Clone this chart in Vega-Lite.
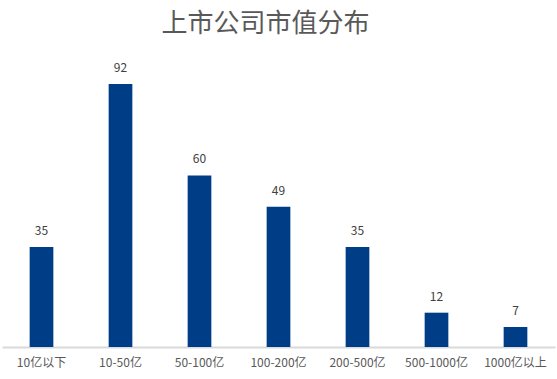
{
  "$schema": "https://vega.github.io/schema/vega-lite/v6.json",
  "width": 553,
  "height": 286,
  "autosize": {"type": "none"},
  "padding": {"left": 2, "top": 61, "right": 2, "bottom": 32},
  "background": "white",
  "title": {
    "text": "上市公司市值分布",
    "font": "Noto Sans CJK SC",
    "fontSize": 26,
    "fontWeight": "normal",
    "color": "#595959",
    "anchor": "middle",
    "dx": -13,
    "offset": 24
  },
  "data": {
    "values": [
      {"range": "10亿以下", "count": 35},
      {"range": "10-50亿", "count": 92},
      {"range": "50-100亿", "count": 60},
      {"range": "100-200亿", "count": 49},
      {"range": "200-500亿", "count": 35},
      {"range": "500-1000亿", "count": 12},
      {"range": "1000亿以上", "count": 7}
    ]
  },
  "config": {"view": {"stroke": null}},
  "encoding": {
    "x": {
      "field": "range",
      "type": "nominal",
      "sort": null,
      "scale": {"paddingInner": 0.7, "paddingOuter": 0.35},
      "axis": {
        "title": null,
        "labelAngle": 0,
        "labelFont": "Noto Sans CJK SC",
        "labelFontSize": 12,
        "labelColor": "#595959",
        "labelPadding": 10,
        "ticks": false,
        "domainColor": "#d9d9d9",
        "domainWidth": 2,
        "grid": false
      }
    },
    "y": {
      "field": "count",
      "type": "quantitative",
      "scale": {"domain": [0, 100], "nice": false},
      "axis": null
    }
  },
  "layer": [
    {"mark": {"type": "bar", "color": "#003d87"}},
    {
      "mark": {"type": "text", "dy": -16, "font": "Noto Sans CJK SC", "fontSize": 12, "color": "#404040"},
      "encoding": {"text": {"field": "count", "type": "quantitative"}}
    }
  ]
}
